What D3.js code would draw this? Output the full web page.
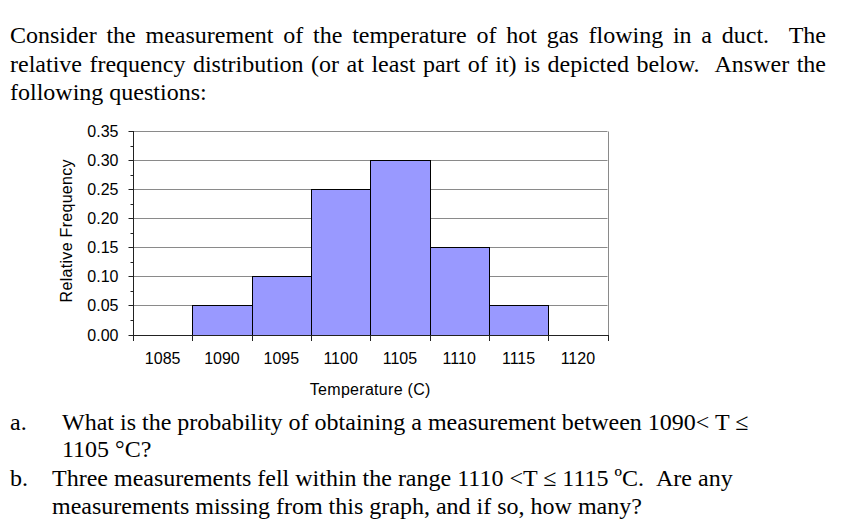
<!DOCTYPE html>
<html>
<head>
<meta charset="utf-8">
<script src="https://cdn.jsdelivr.net/npm/d3@7"></script>
<style>
  body { margin: 0; background: #fff; width: 842px; height: 519px; overflow: hidden; position: relative; }
  .txt { position: absolute; font-family: "Liberation Serif", "Times New Roman", serif; font-size: 24px; line-height: 28px; color: #000; white-space: nowrap; }
  .just { text-align: justify; text-align-last: justify; white-space: normal; }
  svg { position: absolute; left: 0; top: 0; }
  .chart text { font-family: "Liberation Sans", Arial, sans-serif; }
</style>
</head>
<body>
<div class="txt just" style="left:10px; top:21px; width:816px;">Consider the measurement of the temperature of hot gas flowing in a duct. &nbsp;The</div>
<div class="txt just" style="left:10px; top:49.5px; width:816px;">relative frequency distribution (or at least part of it) is depicted below. &nbsp;Answer the</div>
<div class="txt" style="left:10px; top:78px;">following questions:</div>

<div class="txt" style="left:10px; top:408px;">a.</div>
<div class="txt" style="left:62px; top:408px;">What is the probability of obtaining a measurement between 1090&lt; T ≤</div>
<div class="txt" style="left:62px; top:435px;">1105 °C?</div>
<div class="txt" style="left:10px; top:464px;">b.</div>
<div class="txt" style="left:52px; top:464px;">Three measurements fell within the range 1110 &lt;T ≤ 1115 ºC. &nbsp;Are any</div>
<div class="txt" style="left:52px; top:492px;">measurements missing from this graph, and if so, how many?</div>

<div id="chart"></div>
<script>
const categories = [1085, 1090, 1095, 1100, 1105, 1110, 1115, 1120];
const relFreq = [0, 0.05, 0.10, 0.25, 0.30, 0.15, 0.05, 0];
const yTicks = [0, 0.05, 0.10, 0.15, 0.20, 0.25, 0.30, 0.35];

const width = 842;
const height = 519;
const plotL = 133, plotR = 607.5, plotT = 131, plotB = 334.5;

const svg = d3.select('#chart')
    .append('svg')
    .attr('class', 'chart')
    .attr('width', width)
    .attr('height', height)

const x = d3.scaleBand()
    .domain(categories)
    .range([plotL, plotR])
    .padding(0)
const y = d3.scaleLinear()
    .domain([0, 0.35])
    .range([plotB, plotT])

// grid lines
svg.selectAll('.grid')
    .data(yTicks.slice(1))
    .enter()
    .append('line')
    .attr('x1', plotL)
    .attr('x2', plotR)
    .attr('y1', d => Math.round(y(d)) + 0.5)
    .attr('y2', d => Math.round(y(d)) + 0.5)
    .attr('stroke', '#8a8a8a')
    .attr('stroke-width', 1)

// right border
svg.append('line')
    .attr('x1', Math.round(plotR) + 0.5)
    .attr('x2', Math.round(plotR) + 0.5)
    .attr('y1', Math.round(plotT) + 0.5)
    .attr('y2', Math.round(plotB) + 0.5)
    .attr('stroke', '#8a8a8a')

// bars
const data = categories.map((c, i) => ({ cat: c, v: relFreq[i] }))
svg.selectAll('.bar')
    .data(data.filter(d => d.v > 0))
    .enter()
    .append('rect')
    .attr('x', d => Math.round(x(d.cat)) + 0.5)
    .attr('y', d => Math.round(y(d.v)) + 0.5)
    .attr('width', d => Math.round(x(d.cat) + x.bandwidth()) - Math.round(x(d.cat)))
    .attr('height', d => Math.round(plotB) - Math.round(y(d.v)))
    .attr('fill', '#9999ff')
    .attr('stroke', '#000')
    .attr('stroke-width', 1)

// y axis
const yAxis = d3.axisLeft(y)
    .tickValues(yTicks)
    .tickFormat(d3.format('.2f'))
    .tickSize(5)
    .tickPadding(10)
const gy = svg.append('g')
    .attr('transform', `translate(${Math.round(plotL) + 0.5},0)`)
    .call(yAxis)
gy.select('.domain').attr('stroke', '#222').attr('d', `M0,${Math.round(plotT)}V${Math.round(plotB) + 1}`)
gy.selectAll('.tick').attr('transform', d => `translate(0,${Math.round(y(d)) + 0.5})`)
gy.selectAll('.tick line').attr('stroke', '#222')
gy.selectAll('.tick text')
    .attr('font-size', 16)
    .attr('fill', '#000')
    .attr('font-family', '"Liberation Sans", Arial, sans-serif')

// minor ticks on y axis
const minor = d3.range(0.025, 0.35, 0.05)
svg.selectAll('.minor')
    .data(minor)
    .enter()
    .append('line')
    .attr('x1', Math.round(plotL) - 3 + 0.5)
    .attr('x2', Math.round(plotL) + 0.5)
    .attr('y1', d => Math.round(y(d)) + 0.5)
    .attr('y2', d => Math.round(y(d)) + 0.5)
    .attr('stroke', '#222')

// x axis
svg.append('line')
    .attr('x1', Math.round(plotL))
    .attr('x2', Math.round(plotR) + 1)
    .attr('y1', Math.round(plotB) + 0.5)
    .attr('y2', Math.round(plotB) + 0.5)
    .attr('stroke', '#222')
const bounds = categories.map(c => x(c)).concat([x(categories[categories.length - 1]) + x.bandwidth()])
svg.selectAll('.xtick')
    .data(bounds)
    .enter()
    .append('line')
    .attr('x1', d => Math.round(d) + 0.5)
    .attr('x2', d => Math.round(d) + 0.5)
    .attr('y1', Math.round(plotB) + 0.5)
    .attr('y2', Math.round(plotB) + 6)
    .attr('stroke', '#222')
svg.selectAll('.xlabel')
    .data(categories)
    .enter()
    .append('text')
    .attr('x', d => x(d) + x.bandwidth() / 2)
    .attr('y', 364)
    .attr('text-anchor', 'middle')
    .attr('font-size', 16)
    .text(d => d)

// axis titles
svg.append('text')
    .attr('x', (plotL + plotR) / 2)
    .attr('y', 395)
    .attr('text-anchor', 'middle')
    .attr('font-size', 16)
    .attr('letter-spacing', 0.3)
    .text('Temperature (C)')
svg.append('text')
    .attr('transform', `translate(72,${(plotT + plotB) / 2 - 2}) rotate(-90)`)
    .attr('text-anchor', 'middle')
    .attr('font-size', 16)
    .attr('letter-spacing', 0.3)
    .text('Relative Frequency')
</script>
</body>
</html>
